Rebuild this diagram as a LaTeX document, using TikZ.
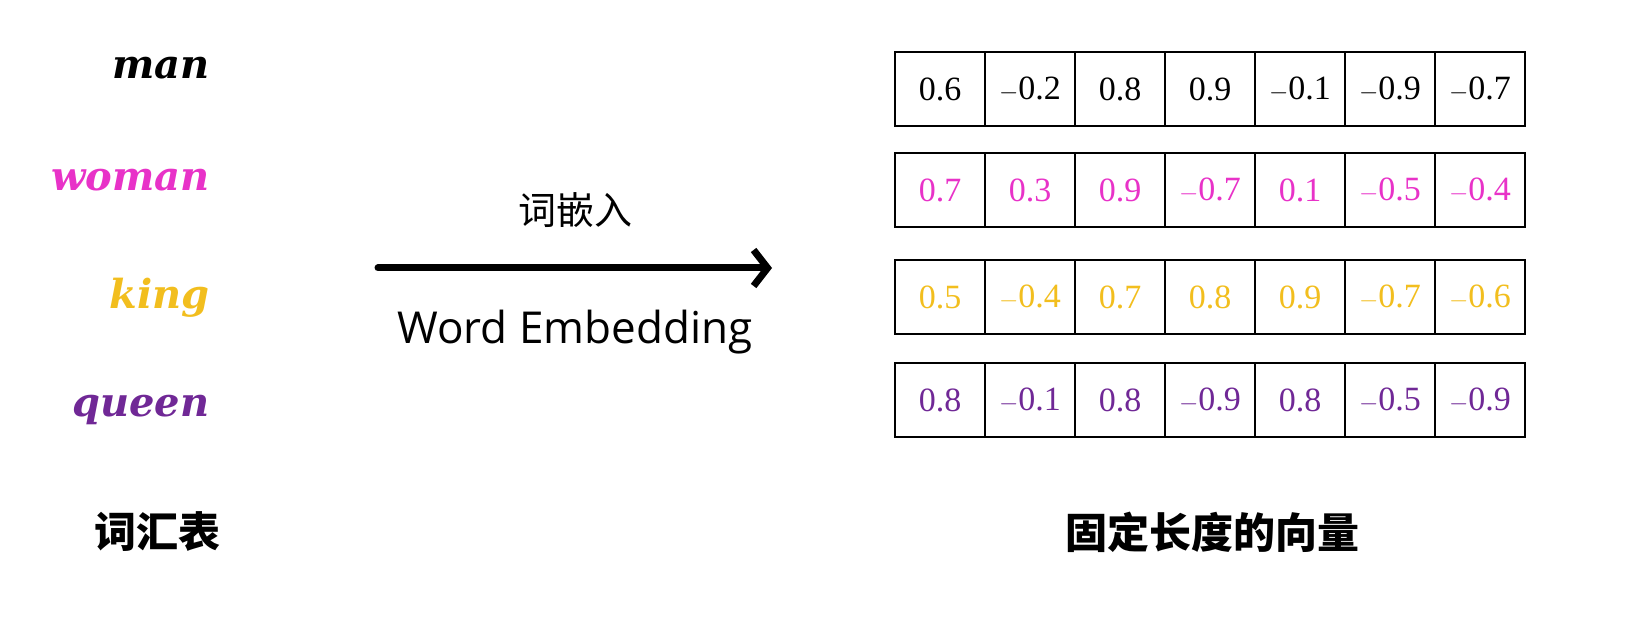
\documentclass[tikz,border=0pt]{standalone}
\usetikzlibrary{arrows.meta}
\usepackage{fontspec}
\setmainfont{Liberation Serif}
\newfontfamily\sans{Open Sans}
\newfontfamily\cjk{Noto Sans CJK SC}
\newfontfamily\wordf{DejaVu Serif}
\definecolor{cmag}{RGB}{232,50,200}
\definecolor{cgold}{RGB}{242,190,30}
\definecolor{cpur}{RGB}{112,40,150}
\begin{document}
\begin{tikzpicture}[x=1pt,y=-1pt,
  word/.style={anchor=east,font=\wordf\bfseries\itshape\fontsize{40}{40}\selectfont},
  cell/.style={draw,line width=1.6pt,minimum width=90pt,minimum height=74pt,inner sep=0pt,font=\fontsize{34}{34}\selectfont},
  lab/.style={font=\cjk\bfseries\fontsize{42}{42}\selectfont}]
\useasboundingbox (0,0) rectangle (1643,617);
\node[word] (w1) at (213,68) {man};
\node[word,text=cmag] (w2) at (213,180) {woman};
\node[word,text=cgold] (w3) at (213,298) {king};
\node[word,text=cpur] (w4) at (213,410) {queen};
\coordinate (a1) at (378,268);
\coordinate (a2) at (772,268);
\draw[line width=7pt,line cap=round,-{Straight Barb[length=14pt,width=36pt]}] (a1) -- (a2);
\node[font=\cjk\fontsize{38}{38}\selectfont] (t1) at (575,210) {词嵌入};
\node[font=\sans\fontsize{44}{44}\selectfont] (t2) at (575,332) {Word Embedding};
\foreach \r/\y/\c/\vals in {1/89/black/{0.6,$-$0.2,0.8,0.9,$-$0.1,$-$0.9,$-$0.7},
  2/190/cmag/{0.7,0.3,0.9,$-$0.7,0.1,$-$0.5,$-$0.4},
  3/297/cgold/{0.5,$-$0.4,0.7,0.8,0.9,$-$0.7,$-$0.6},
  4/400/cpur/{0.8,$-$0.1,0.8,$-$0.9,0.8,$-$0.5,$-$0.9}}{
  \foreach \v [count=\i] in \vals {
    \node[cell,text=\c] (c\r\i) at ({895+45+(\i-1)*90},\y) {\v};
  }
}
\node[lab] (l1) at (157,532) {词汇表};
\node[lab] (l2) at (1212,532) {固定长度的向量};
\end{tikzpicture}
\end{document}
